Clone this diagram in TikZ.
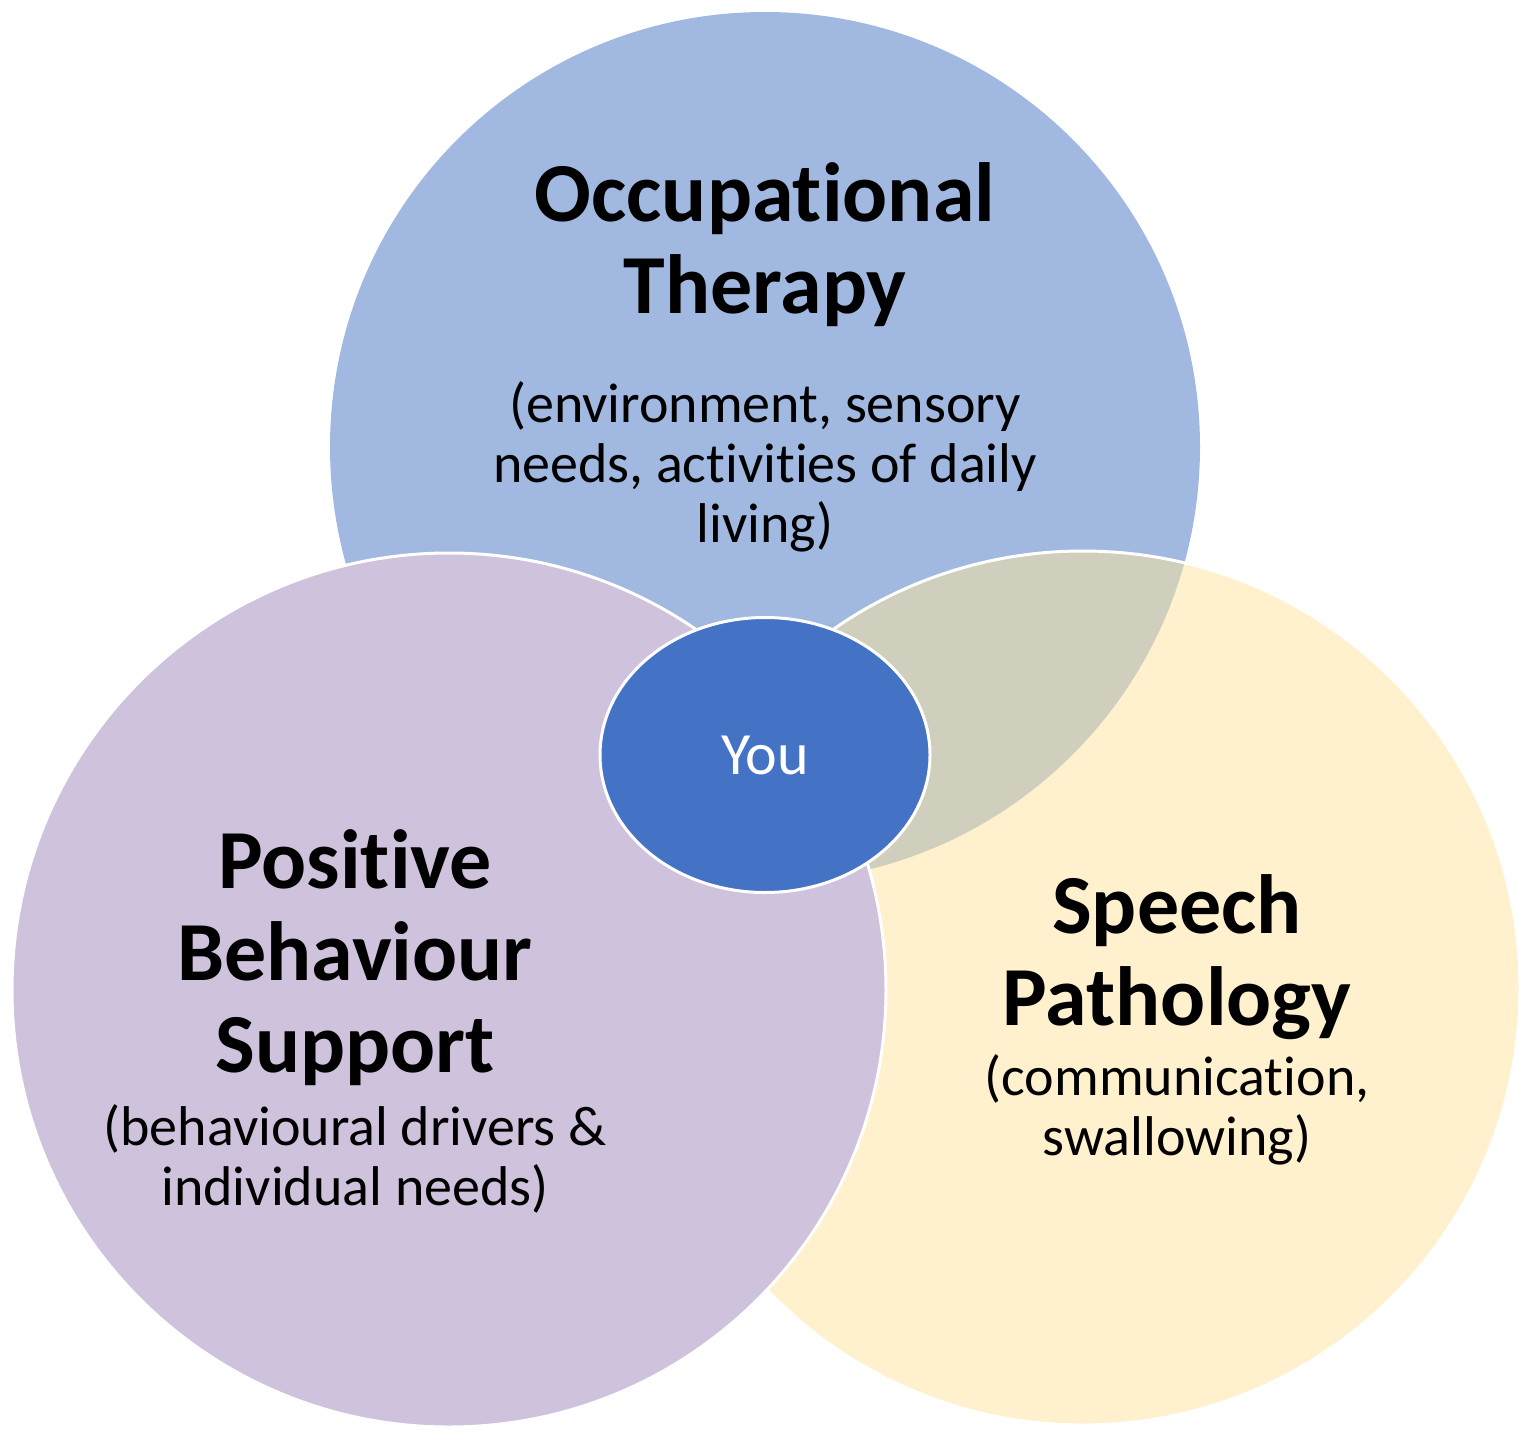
\documentclass[tikz,border=0pt]{standalone}
\usepackage{fontspec}
\setmainfont[Ligatures=NoCommon]{Carlito}
\usetikzlibrary{shapes.geometric}
\definecolor{otblue}{RGB}{161,184,224}
\definecolor{pbspurple}{RGB}{207,194,220}
\definecolor{spyellow}{RGB}{255,241,205}
\definecolor{mixgrey}{RGB}{208,207,190}
\definecolor{youblue}{RGB}{68,114,196}
\tikzset{
  title/.style={font=\fontsize{42}{46}\selectfont\bfseries, align=center, inner sep=0pt},
  subtitle/.style={font=\fontsize{28}{30}\selectfont, align=center, inner sep=0pt},
  rim/.style={draw=white, line width=1.5pt}
}
\begin{document}
\begin{tikzpicture}[x=0.5pt,y=-0.5pt]
\useasboundingbox (0,0) rectangle (1536,1445);

%occupational therapy
\fill [otblue] (765,447) circle (435);

%speech pathology
\fill [spyellow] (1083,988) circle (437);
\begin{scope}
\clip (765,447) circle (435);
\fill [mixgrey] (1083,988) circle (437);
\end{scope}
\draw [rim] (1083,988) circle (437);

%positive behaviour support
\draw [rim, fill=pbspurple] (449,990) circle (437);

%you
\node [ellipse, rim, fill=youblue, minimum width=165pt, minimum height=137.5pt, inner sep=0pt,
  text=white, font=\fontsize{30}{34}\selectfont] (you) at (765,755) {You};

\node [title] (ot) at (765,245) {Occupational\\Therapy};
\node [subtitle] (otsub) at (765,467) {(environment, sensory\\needs, activities of daily\\living)};

\node [title] (pbs) at (355,958) {Positive\\Behaviour\\Support};
\node [subtitle] (pbssub) at (355,1159) {(behavioural drivers \&\\individual needs)};

\node [title] (sp) at (1177,957) {Speech\\Pathology};
\node [subtitle] (spsub) at (1177,1110) {(communication,\\swallowing)};
\end{tikzpicture}
\end{document}
